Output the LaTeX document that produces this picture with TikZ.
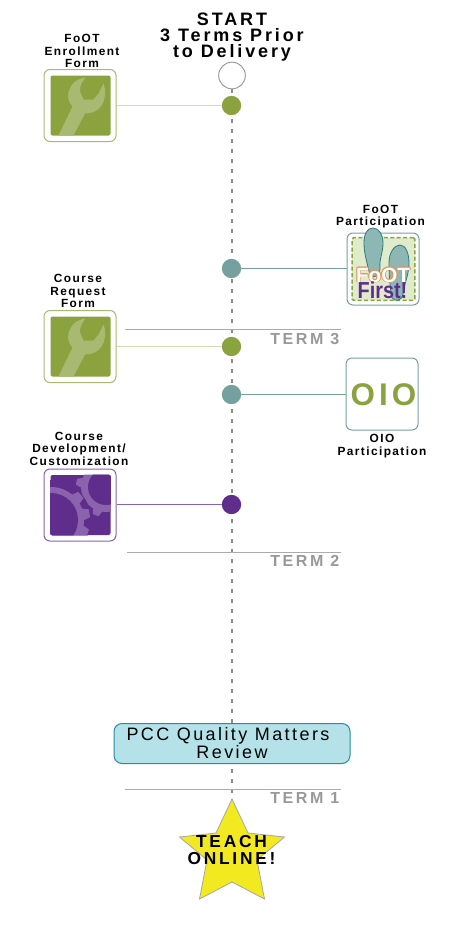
\documentclass[tikz,border=0pt]{standalone}
\usepackage{fontspec}
\usepackage{graphicx}
\setmainfont{Liberation Sans}
\newfontfamily\lbl[LetterSpace=12]{Liberation Sans}
\newfontfamily\wide[LetterSpace=16]{Liberation Sans}
\newfontfamily\revf[LetterSpace=13.5]{Liberation Sans}
\newfontfamily\oiof[LetterSpace=13]{Liberation Sans}
\usetikzlibrary{calc}
\definecolor{olive}{HTML}{8AA33F}
\definecolor{olivel}{HTML}{A8BA72}
\definecolor{oliveline}{HTML}{D3DDB4}
\definecolor{teal1}{HTML}{76A0A0}
\definecolor{purp}{HTML}{5F2D8C}
\definecolor{purpl}{HTML}{8A63AC}
\definecolor{aqua}{HTML}{B4E2E8}
\definecolor{aquad}{HTML}{2A8CA5}
\definecolor{stargold}{HTML}{F2E920}
\definecolor{palegreen}{HTML}{DFEBCB}
\definecolor{footteal}{HTML}{8DB7B5}
\definecolor{footline}{HTML}{2F7A78}
\definecolor{orangeo}{HTML}{E8915A}
\tikzset{
  x=0.75pt,y=-0.75pt,
  captext/.style={font=\lbl\bfseries\fontsize{8.9}{9.4}\selectfont,align=center,text=black,inner sep=0pt},
  termlbl/.style={font=\wide\bfseries\fontsize{12}{12}\selectfont,text=black!40,inner sep=0pt},
  dot/.style={circle,minimum size=14.5pt,inner sep=0pt},
  frame/.style={rounded corners=4.5pt,fill=white,line width=0.75pt,minimum width=54pt,minimum height=54pt,inner sep=0pt},
  inner/.style={rounded corners=1.5pt,minimum width=45pt,minimum height=45pt,inner sep=0pt},
  termline/.style={draw=black!33,line width=0.75pt},
  spine/.style={draw=black!45,line width=1.5pt,dash pattern=on 3pt off 4.5pt},
  footword/.style={inner sep=0pt,font=\bfseries\fontsize{15.5}{15.5}\selectfont}
}
\begin{document}
\begin{tikzpicture}
\useasboundingbox (0,0) rectangle (451,928);
\fill[white] (0,0) rectangle (451,928);
% spine anchors
\node[dot,draw=black!40,fill=white,line width=0.7pt,minimum size=20pt] (start) at (232,75.5) {};
\coordinate (spineend) at (232,800);
\path[spine] (start.south) -- (spineend);
% term lines
\coordinate (t3a) at (125,329.5); \coordinate (t3b) at (341,329.5);
\coordinate (t2a) at (127,552.5); \coordinate (t2b) at (341,552.5);
\coordinate (t1a) at (125,789.5); \coordinate (t1b) at (341,789.5);
\draw[termline] (t3a) -- (t3b);
\draw[termline] (t2a) -- (t2b);
\draw[termline] (t1a) -- (t1b);
\node[termlbl,anchor=east] (term3) at (339.5,339) {TERM 3};
\node[termlbl,anchor=east] (term2) at (339.5,561) {TERM 2};
\node[termlbl,anchor=east] (term1) at (339.5,798) {TERM 1};
% dots
\node[dot,fill=olive] (d1) at (231.5,105.5) {};
\node[dot,fill=teal1] (d2) at (231.5,268.5) {};
\node[dot,fill=olive] (d3) at (231.5,346.5) {};
\node[dot,fill=teal1] (d4) at (231.5,394.5) {};
\node[dot,fill=purp] (d5) at (231.5,504.5) {};
% frames
\node[frame,draw=olivel] (f1) at (80,105.5) {};
\node[frame,draw=olivel] (f2) at (80,346.5) {};
\node[frame,draw=purpl] (f3) at (80,505) {};
\node[frame,draw=teal1] (f4) at (383,269) {};
\node[frame,draw=teal1] (f5) at (382,394) {};
\draw[oliveline,line width=0.75pt] (f1.east |- d1) -- (d1);
\draw[oliveline,line width=0.75pt] (f2.east |- d3) -- (d3);
\draw[purpl,line width=1pt] (f3.east |- d5) -- (d5);
\draw[teal1,line width=1pt] (d2) -- (f4.west |- d2);
\draw[teal1,line width=1pt] (d4) -- (f5.west |- d4);
% wrench icons
\foreach \n/\cy in {w1/105.5,w2/346.5}{
  \node[inner,fill=olive] (\n) at (80.5,\cy) {};
  \begin{scope}
    \clip[rounded corners=1.5pt] (\n.south west) rectangle (\n.north east);
    \fill[olivel,shift={(\n.center)}]
      (-22,30) -- (-8,1) .. controls (-12,-3) and (-13,-8) .. (-12,-13)
      .. controls (-10,-22) and (-3,-27) .. (5,-28)
      .. controls (2,-24) and (-1,-20) .. (-0.5,-14)
      -- (3,-6) -- (13,-6) -- (18,-12) -- (23,-22)
      .. controls (26,-14) and (25,-6) .. (21,0)
      .. controls (18,5) and (12,8) .. (4.5,8)
      -- (-7,30) -- cycle;
  \end{scope}
}
% gear icon
\node[inner,fill=purp] (w3) at (80.5,505) {};
\begin{scope}
  \clip[rounded corners=1.5pt] (w3.south west) rectangle (w3.north east);
  % small gear
  \fill[purpl] (106,487) circle (25);
  \foreach \a in {90,130,...,250}{
    \fill[purpl,shift={(106,487)},rotate=\a] (24,-5) -- (30,-3) -- (30,3) -- (24,5) -- cycle;
  }
  \fill[purp] (106,487) circle (18);
  % large gear
  \fill[purp] (51,520) circle (40);
  \fill[purpl] (51,520) circle (33);
  \foreach \a in {-80,-50,...,40}{
    \fill[purpl,shift={(51,520)},rotate=\a] (32,-6) -- (39,-4) -- (39,4) -- (32,6) -- cycle;
  }
  \fill[purp] (51,520) circle (27);
\end{scope}
% FoOT First
\node[inner,minimum width=47pt,minimum height=47pt,draw=olive,dash pattern=on 3pt off 1.8pt,line width=1.2pt,fill=palegreen,rounded corners=1pt] (w4) at (383.5,269) {};
\fill[footteal,draw=footline,line width=0.6pt] (373,228) .. controls (379,228) and (383,235) .. (383,243)
  .. controls (383,253) and (379,259) .. (380,268) .. controls (380,276) and (374,279) .. (370,275)
  .. controls (367,263) and (364,253) .. (364,243) .. controls (364,234) and (367,228) .. (373,228) -- cycle;
\fill[footteal,draw=footline,line width=0.6pt] (400,245) .. controls (406,245) and (409,254) .. (409,263)
  .. controls (409,275) and (404,284) .. (403,294) .. controls (402,301) and (395,302) .. (392,298)
  .. controls (390,288) and (389,276) .. (389,263) .. controls (389,253) and (394,245) .. (400,245) -- cycle;
\foreach \dx/\dy in {-0.7/0,0.7/0,0/-0.7,0/0.7,-0.7/-0.7,0.7/0.7,-0.7/0.7,0.7/-0.7}{
  \node[footword,text=orangeo] at (383+\dx,275+\dy) {FoOT};
}
\node[footword,text=white] (foot) at (383,275) {FoOT};
\node[inner sep=0pt,font=\bfseries\fontsize{15.5}{15.5}\selectfont,text=purp] (first) at (382.5,290.5) {\scalebox{0.96}[1.12]{First!}};
% OIO
\node[inner sep=0pt,font=\oiof\bfseries\fontsize{23.5}{23.5}\selectfont,text=olive] (oio) at (383.5,394.5) {OIO};
% captions
\node[captext] (c1) at (82,51) {FoOT\\Enrollment\\Form};
\node[captext] (c2) at (78,291) {Course\\Request\\Form};
\node[captext] (c3) at (79,448.5) {Course\\Development/\\Customization};
\node[captext] (c4) at (380.5,216.5) {FoOT\\Participation};
\node[captext] (c5) at (382,446) {OIO\\Participation};
\node[inner sep=0pt,align=center,font=\wide\bfseries\fontsize{13.5}{12}\selectfont] (title) at (232,37) {START\\3 Terms Prior\\to Delivery};
% review
\node[draw=aquad,fill=aqua,line width=0.75pt,rounded corners=6pt,minimum width=177pt,minimum height=30pt,inner sep=0pt,
  align=center,font=\revf\fontsize{13.5}{12}\selectfont] (review) at (232,743.5) {PCC Quality Matters\hspace*{6pt}\\Review};
% star
\path[fill=stargold,draw=black!35,line width=0.6pt] (232,799) -- (248,833) -- (284.5,837) -- (257,860) -- (264.5,899) -- (232,882) -- (199.5,899) -- (207,860) -- (179.5,837) -- (216,833) -- cycle;
\node[inner sep=0pt,align=center,font=\wide\bfseries\fontsize{13}{12.5}\selectfont] (teach) at (231.5,850) {TEACH\\ONLINE!};
\end{tikzpicture}
\end{document}
